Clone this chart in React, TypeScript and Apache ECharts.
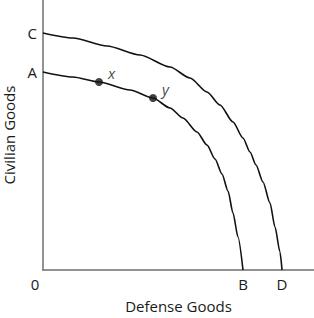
import React, { useEffect, useRef } from "react";
import * as echarts from "echarts";

// Inner frontier (A–B): [defense, civilian]
const innerCurve: [number, number][] = [
  [0, 198], [30, 193], [56, 188], [87, 180], [110, 172], [127, 162],
  [140, 152], [154, 138], [164, 125], [172, 111], [179, 96], [185, 79],
  [190, 57], [195, 33], [200, 0],
];
// Outer frontier (C–D)
const outerCurve: [number, number][] = [
  [0, 237], [30, 232], [64, 224], [97, 215], [127, 203], [147, 192],
  [164, 178], [177, 165], [190, 148], [200, 132], [207, 118], [213, 105],
  [220, 88], [227, 67], [232, 43], [237, 18], [239, 0],
];
// Marked points on the inner frontier
const pointNames = ["x", "y"];
const pointValues: [number, number][] = [[56, 188], [110, 172]];
// Axis intercept labels
const xTickValues = [0, 200, 239];
const xTickLabels = ["0", "B", "D"];
const yTickValues = [198, 237];
const yTickLabels = ["A", "C"];

const FONT = "Open Sans";
const FS = 15;
const TEXT = "#1a1a1a";
const AXIS = "#6f6f6f";

export default function App() {
  const ref = useRef<HTMLDivElement>(null);
  useEffect(() => {
    if (!ref.current) return;
    const chart = echarts.init(ref.current, undefined, { renderer: "svg" });
    chart.setOption({
      animation: false,
      grid: { left: 43, top: 0, right: 0, bottom: 48, containLabel: false, outerBoundsMode: "none" },
      xAxis: {
        type: "value",
        min: 0,
        max: 271,
        name: "Defense Goods",
        nameLocation: "middle",
        nameGap: 28,
        nameTextStyle: { fontFamily: FONT, fontSize: FS, color: TEXT },
        axisLine: { show: true, lineStyle: { color: AXIS, width: 1.5 } },
        axisTick: { show: false },
        splitLine: { show: false },
        axisLabel: {
          customValues: xTickValues,
          margin: 6,
          fontFamily: FONT,
          fontSize: FS,
          color: TEXT,
          formatter: (v: number) => {
            const i = xTickValues.indexOf(v);
            const t = i >= 0 ? xTickLabels[i] : "";
            return i === 0 ? "{o|" + t + "}" : t;
          },
          rich: { o: { fontFamily: FONT, fontSize: FS, color: TEXT, padding: [0, 16, 0, 0] } },
        },
      },
      yAxis: {
        type: "value",
        min: 0,
        max: 270,
        name: "Civilian Goods",
        nameLocation: "middle",
        nameGap: 21,
        nameTextStyle: { fontFamily: FONT, fontSize: FS, color: TEXT },
        axisLine: { show: true, lineStyle: { color: AXIS, width: 1.5 } },
        axisTick: { show: false },
        splitLine: { show: false },
        axisLabel: {
          customValues: yTickValues,
          margin: 6,
          fontFamily: FONT,
          fontSize: FS,
          color: TEXT,
          formatter: (v: number) => {
            const i = yTickValues.indexOf(v);
            return i >= 0 ? yTickLabels[i] : "";
          },
        },
      },
      series: [
        {
          type: "line",
          data: innerCurve,
          smooth: 0.25,
          smoothMonotone: "x",
          showSymbol: false,
          lineStyle: { color: "#111", width: 1.6 },
          z: 2,
        },
        {
          type: "line",
          data: outerCurve,
          smooth: 0.25,
          smoothMonotone: "x",
          showSymbol: false,
          lineStyle: { color: "#111", width: 1.6 },
          z: 2,
        },
        {
          type: "scatter",
          data: pointValues.map((v, i) => ({ value: v, name: pointNames[i] })),
          symbolSize: 8,
          itemStyle: { color: "#111" },
          z: 3,
          label: {
            show: true,
            position: "right",
            offset: [0, -9],
            formatter: (p: any) => p.name,
            fontFamily: FONT,
            fontStyle: "italic",
            fontSize: FS,
            color: "#111",
          },
        },
      ],
    });
    return () => chart.dispose();
  }, []);
  return <div ref={ref} style={{ width: 314, height: 318, position: "absolute", left: 0, top: 0 }} />;
}
